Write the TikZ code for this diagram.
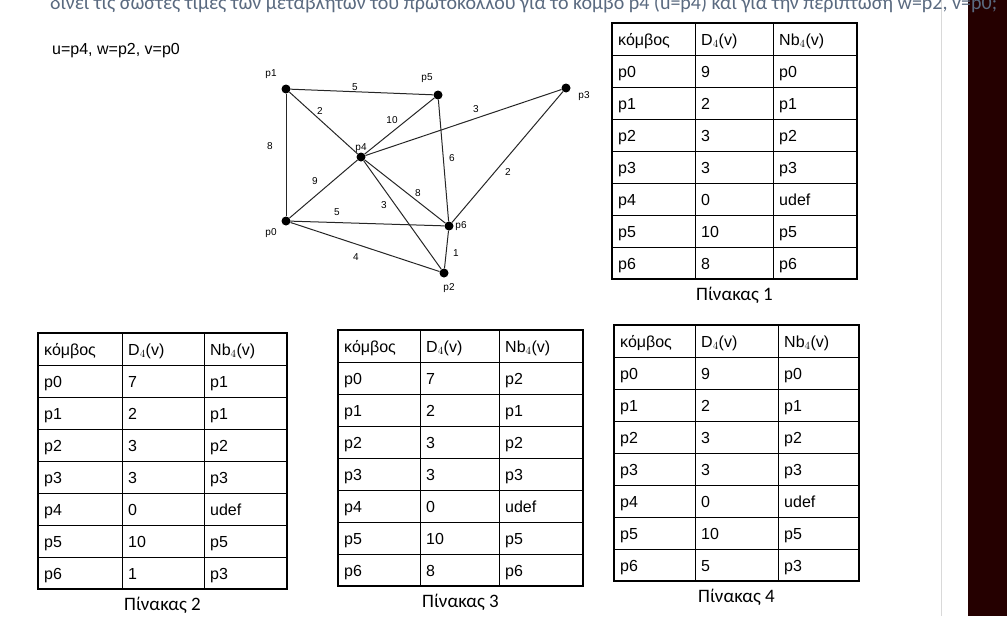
\documentclass[tikz,border=0pt]{standalone}
\usepackage{fontspec}
\setmainfont{Liberation Sans}
\newfontfamily\calib{Carlito}
\definecolor{topc}{HTML}{5A6A80}
\definecolor{barc}{HTML}{250000}
\newcommand{\mytable}[7]{%
  \draw[line width=0.8pt] (#2,#6) rectangle (#5,#6+256);
  \foreach \i in {1,...,7} {\draw[line width=0.8pt] (#2,#6+\i*32) -- (#5,#6+\i*32);}
  \draw[line width=0.8pt] (#3,#6) -- (#3,#6+256);
  \draw[line width=0.8pt] (#4,#6) -- (#4,#6+256);
  \draw[line width=2.2pt] (#2,#6) rectangle (#5,#6+256);
  \node[tt] at (#2+6,#6+22) {κόμβος};
  \node[tt] at (#3+6,#6+22) {D$_4$(v)};
  \node[tt] at (#4+6,#6+22) {Nb$_4$(v)};
  \foreach \a/\b/\c [count=\k] in {#7} {
    \node[tt] at (#2+6,#6+22+\k*32) {\a};
    \node[tt] at (#3+6,#6+22+\k*32) {\b};
    \node[tt] at (#4+6,#6+22+\k*32) {\c};
  }
  \node[captxt] at ({(#2+#5)/2},#6+272) {#1};
}
\begin{document}
\begin{tikzpicture}[x=1pt,y=-1pt,
  tt/.style={anchor=base west,inner sep=0pt,font=\fontsize{16}{18}\selectfont},
  captxt/.style={inner sep=0pt,font=\calib\fontsize{19}{21}\selectfont},
  dot/.style={circle,fill=black,inner sep=0pt,minimum size=9pt},
  lbl/.style={inner sep=0pt,font=\fontsize{10}{11}\selectfont},
  edge/.style={draw=black!85,line width=1pt}]
\useasboundingbox (0,0) rectangle (1007,616);
\clip (0,0) rectangle (1007,616);
\fill[barc] (968,0) rectangle (1007,616);
\draw[black!15] (941,0) -- (941,616);
\node[anchor=west,inner sep=0pt,text=topc,font=\calib\fontsize{20}{22}\selectfont] at (50,4) {δίνει τις σωστές τιμές των μεταβλητών του πρωτοκόλλου για το κόμβο p4 (u=p4) και για την περίπτωση w=p2, v=p0;};
\node[anchor=west,inner sep=0pt,font=\fontsize{16}{18}\selectfont] at (52,51) {u=p4, w=p2, v=p0};
% graph
\node[dot] (p1) at (286,89) {};
\node[dot] (p5) at (438,95) {};
\node[dot] (p3) at (566,88) {};
\node[dot] (p4) at (361,157) {};
\node[dot] (p0) at (286,221) {};
\node[dot] (p6) at (449,226) {};
\node[dot] (p2) at (444,273) {};
\node[lbl] at (271,74) {p1};
\node[lbl] at (427,78) {p5};
\node[lbl] at (584,96) {p3};
\node[lbl] at (361,148) {p4};
\node[lbl] at (271,233) {p0};
\node[lbl] at (461,226) {p6};
\node[lbl] at (449,288) {p2};
\draw[edge] (p1) -- node[lbl,pos=0.45,above=1pt]{5} (p5);
\draw[edge] (p1) -- (p4);
\node[lbl] at (320,111) {2};
\draw[edge] (p1) -- (p0);
\node[lbl] at (270,146) {8};
\draw[edge] (p4) -- (p5);
\node[lbl] at (392,120) {10};
\draw[edge] (p4) -- (p3);
\node[lbl] at (476,109) {3};
\draw[edge] (p5) -- (p6);
\node[lbl] at (452,158) {6};
\draw[edge] (p3) -- (p6);
\node[lbl] at (508,172) {2};
\draw[edge] (p4) -- (p0);
\node[lbl] at (315,181) {9};
\draw[edge] (p4) -- (p6);
\node[lbl] at (418,193) {8};
\draw[edge] (p4) -- (p2);
\node[lbl] at (384,205) {3};
\draw[edge] (p0) -- (p6);
\node[lbl] at (337,212) {5};
\draw[edge] (p0) -- (p2);
\node[lbl] at (356,257) {4};
\draw[edge] (p6) -- (p2);
\node[lbl] at (456,253) {1};
% tables
\mytable{Πίνακας 1}{612}{695}{773}{857}{23}{p0/9/p0,p1/2/p1,p2/3/p2,p3/3/p3,p4/0/udef,p5/10/p5,p6/8/p6}
\mytable{Πίνακας 2}{38}{122}{204}{287}{333}{p0/7/p1,p1/2/p1,p2/3/p2,p3/3/p3,p4/0/udef,p5/10/p5,p6/1/p3}
\mytable{Πίνακας 3}{338}{420}{499}{583}{330}{p0/7/p2,p1/2/p1,p2/3/p2,p3/3/p3,p4/0/udef,p5/10/p5,p6/8/p6}
\mytable{Πίνακας 4}{614}{695}{778}{859}{325}{p0/9/p0,p1/2/p1,p2/3/p2,p3/3/p3,p4/0/udef,p5/10/p5,p6/5/p3}
\end{tikzpicture}
\end{document}
